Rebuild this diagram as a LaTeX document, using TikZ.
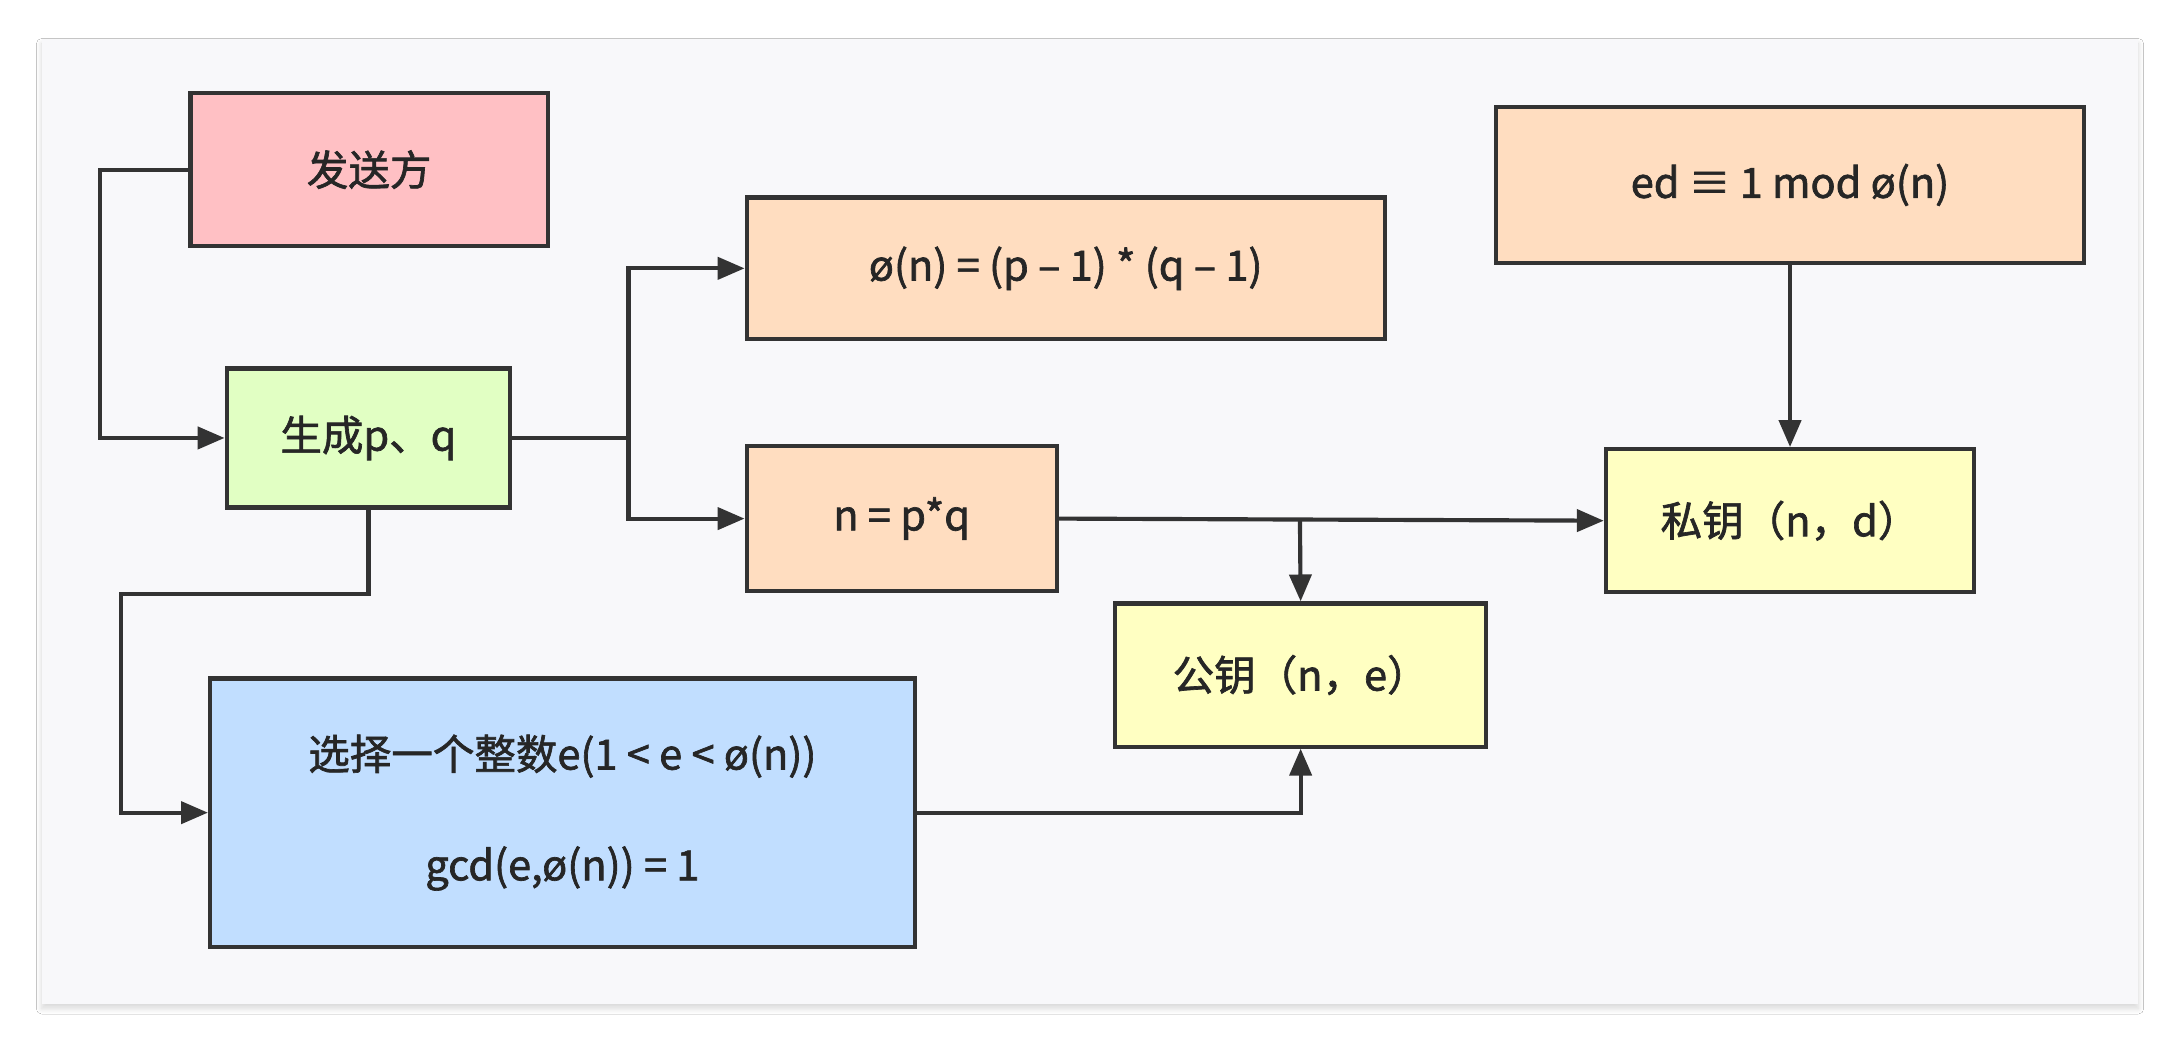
\documentclass[tikz,border=0pt]{standalone}
\usepackage{fontspec}
\setmainfont{Noto Sans CJK SC}[AutoFakeBold=1.6]
\usetikzlibrary{arrows.meta,shadows.blur}
\definecolor{pinkf}{HTML}{FFC0C4}
\definecolor{greenf}{HTML}{E1FFC3}
\definecolor{orangef}{HTML}{FFDDC0}
\definecolor{yellowf}{HTML}{FFFFC2}
\definecolor{bluef}{HTML}{C1DEFF}
\definecolor{edge}{HTML}{333333}
\definecolor{panel}{HTML}{F8F8FA}
\begin{document}
\begin{tikzpicture}[x=0.02cm,y=-0.02cm,
  box/.style={draw=edge,line width=1.7pt,inner sep=0pt,font=\fontsize{17}{24}\selectfont\bfseries,text=black!85,align=center},
  conn/.style={draw=edge,line width=1.7pt,-{Triangle[length=11pt,width=9pt]}},
  line/.style={draw=edge,line width=1.7pt}]
\useasboundingbox[fill=white] (0,0) rectangle (1568,752);
\fill[panel,blur shadow={shadow blur steps=8,shadow xshift=0pt,shadow yshift=-2pt,shadow opacity=15}] (30,28) rectangle (1538,722);
\node[box,fill=pinkf,minimum width=5.14cm,minimum height=2.2cm] (s) at (265.5,122) {发送方};
\node[box,fill=greenf,minimum width=4.08cm,minimum height=2.0cm] (g) at (265,315) {生成p、q};
\node[box,fill=orangef,minimum width=9.18cm,minimum height=2.04cm] (phi) at (766.5,193) {ø(n) = (p – 1) * (q – 1)};
\node[box,fill=orangef,minimum width=4.46cm,minimum height=2.08cm] (n) at (648.5,373) {n = p*q};
\node[box,fill=orangef,minimum width=8.46cm,minimum height=2.24cm] (ed) at (1287.5,133) {ed ≡ 1 mod ø(n)};
\node[box,fill=yellowf,minimum width=5.3cm,minimum height=2.06cm] (pri) at (1287.5,374.5) {私钥（n，d）};
\node[box,fill=yellowf,minimum width=5.34cm,minimum height=2.06cm] (pub) at (935.5,485.5) {公钥（n，e）};
\node[box,fill=bluef,minimum width=10.14cm,minimum height=3.86cm] (sel) at (404.5,584.5) {选择一个整数e(1 < e < ø(n))\\[0.75cm]gcd(e,ø(n)) = 1};
\coordinate (j1) at (452,315);
\coordinate (j2) at (935,374);
\draw[conn] (s.west) -- (72,122) |- (g.west);
\draw[line] (g.east) -- (j1);
\draw[conn] (j1) |- (phi.west);
\draw[conn] (j1) |- (n.west);
\draw[conn] (n.east) -- (pri.west);
\draw[conn] (j2) -- (pub.north);
\draw[conn] (ed.south) -- (pri.north);
\draw[conn] (g.south) -- (265,427) -- (87,427) |- (sel.west);
\draw[conn] (sel.east) -| (pub.south);
\end{tikzpicture}
\end{document}
